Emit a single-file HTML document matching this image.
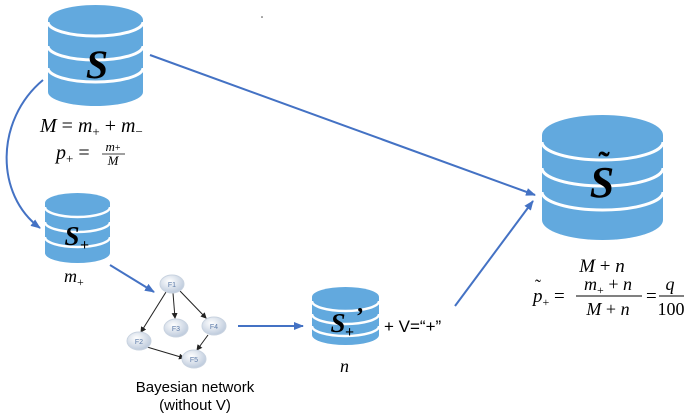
<!DOCTYPE html>
<html><head><meta charset="utf-8"><style>
html,body{margin:0;padding:0;background:#fff;}
svg{display:block;}
.m{font-family:"Liberation Serif",serif;font-style:italic;}
.r{font-family:"Liberation Serif",serif;}
</style></head><body>
<svg width="685" height="415" viewBox="0 0 685 415" xmlns="http://www.w3.org/2000/svg">
<defs>
<marker id="a" markerWidth="10" markerHeight="8" refX="9" refY="4" orient="auto" markerUnits="userSpaceOnUse"><path d="M0,0 L10,4 L0,8 z" fill="#4472c4"/></marker>
<marker id="b" markerWidth="6" markerHeight="6" refX="5" refY="3" orient="auto" markerUnits="userSpaceOnUse"><path d="M0,0 L6,3 L0,6 z" fill="#222"/></marker>
<radialGradient id="g" cx="0.4" cy="0.35" r="0.7"><stop offset="0" stop-color="#fff"/><stop offset="1" stop-color="#b9c7da"/></radialGradient>
</defs>
<!-- DB S -->
<g fill="#62a9de">
<rect x="48" y="20" width="95" height="72"/><ellipse cx="95.5" cy="92" rx="47.5" ry="14"/><ellipse cx="95.5" cy="20" rx="47.5" ry="15"/>
</g>
<g fill="none" stroke="#fff" stroke-width="3">
<path d="M48,22 A47.5,14 0 0 0 143,22"/><path d="M48,46 A47.5,14 0 0 0 143,46"/><path d="M48,68 A47.5,14 0 0 0 143,68"/>
</g>
<text x="97" y="78" class="m" font-weight="bold" font-size="40" text-anchor="middle">S</text>
<text x="40" y="132" class="m" font-size="20">M <tspan font-style="normal">=</tspan> m<tspan font-size="13" dy="4" font-style="normal">+</tspan><tspan dy="-4" font-style="normal"> + </tspan>m<tspan font-size="13" dy="4" font-style="normal">−</tspan></text>
<text x="56" y="159" class="m" font-size="20">p<tspan font-size="13" dy="4" font-style="normal">+</tspan><tspan dy="-4" font-style="normal"> = </tspan></text>
<text x="113" y="151" class="m" font-size="13" text-anchor="middle">m<tspan font-style="normal" font-size="10">+</tspan></text>
<line x1="102" y1="154" x2="125" y2="154" stroke="#000" stroke-width="0.8"/>
<text x="113" y="165" class="m" font-size="13" text-anchor="middle">M</text>
<!-- DB S+ -->
<g fill="#62a9de">
<rect x="45" y="203" width="65" height="50"/><ellipse cx="77.5" cy="253" rx="32.5" ry="10"/><ellipse cx="77.5" cy="203" rx="32.5" ry="10"/>
</g>
<g fill="none" stroke="#fff" stroke-width="2.5">
<path d="M45,207 A32.5,10 0 0 0 110,207"/><path d="M45,222 A32.5,10 0 0 0 110,222"/><path d="M45,237 A32.5,10 0 0 0 110,237"/>
</g>
<text x="72" y="245" class="m" font-weight="bold" font-size="27" text-anchor="middle">S</text>
<text x="80" y="250" class="r" font-weight="bold" font-size="16">+</text>
<text x="64" y="282" class="m" font-size="18">m<tspan font-size="12" dy="4" font-style="normal">+</tspan></text>
<!-- DB S+' -->
<g fill="#62a9de">
<rect x="312" y="297" width="67" height="38"/><ellipse cx="345.5" cy="335" rx="33.5" ry="10"/><ellipse cx="345.5" cy="297" rx="33.5" ry="10"/>
</g>
<g fill="none" stroke="#fff" stroke-width="2.5">
<path d="M312,301 A33.5,10 0 0 0 379,301"/><path d="M312,314 A33.5,10 0 0 0 379,314"/><path d="M312,326 A33.5,10 0 0 0 379,326"/>
</g>
<text x="338" y="332" class="m" font-weight="bold" font-size="27" text-anchor="middle">S</text>
<text x="345" y="337" class="r" font-weight="bold" font-size="16">+</text>
<text x="356" y="324" class="r" font-weight="bold" font-size="24">’</text>
<text x="384" y="332" font-family="Liberation Sans,sans-serif" font-size="17">+ V=“+”</text>
<text x="340" y="372" class="m" font-size="18">n</text>
<!-- DB S~ -->
<g fill="#62a9de">
<rect x="542" y="135" width="121" height="85"/><ellipse cx="602.5" cy="220" rx="60.5" ry="20"/><ellipse cx="602.5" cy="135" rx="60.5" ry="20"/>
</g>
<g fill="none" stroke="#fff" stroke-width="3">
<path d="M542,142 A60.5,18 0 0 0 663,142"/><path d="M542,168 A60.5,18 0 0 0 663,168"/><path d="M542,192 A60.5,18 0 0 0 663,192"/>
</g>
<text x="602" y="197" class="m" font-weight="bold" font-size="44" text-anchor="middle">S</text>
<text x="604" y="175" class="r" font-weight="bold" font-size="34" text-anchor="middle">˜</text>
<text x="602" y="272" class="m" font-size="19" text-anchor="middle">M <tspan font-style="normal">+</tspan> n</text>
<text x="533" y="302" class="m" font-size="19">p<tspan font-size="12" dy="4" font-style="normal">+</tspan><tspan dy="-4" font-style="normal"> =</tspan></text>
<text x="535" y="292" class="r" font-size="18">˜</text>
<text x="608" y="290" class="m" font-size="18" text-anchor="middle">m<tspan font-size="12" dy="4" font-style="normal">+</tspan><tspan dy="-4" font-style="normal"> + </tspan>n</text>
<line x1="576" y1="296" x2="642" y2="296" stroke="#000" stroke-width="1"/>
<text x="608" y="315" class="m" font-size="18" text-anchor="middle">M <tspan font-style="normal">+</tspan> n</text>
<text x="646" y="302" class="r" font-size="19">=</text>
<text x="670" y="290" class="m" font-size="18" text-anchor="middle">q</text>
<line x1="659" y1="296" x2="684" y2="296" stroke="#000" stroke-width="1"/>
<text x="671" y="315" class="r" font-size="18" text-anchor="middle">100</text>
<!-- arrows -->
<g stroke="#4472c4" stroke-width="2" fill="none" marker-end="url(#a)">
<line x1="150" y1="55" x2="535" y2="195"/>
<line x1="455" y1="306" x2="533" y2="201"/>
<path d="M43,80 C-5,120 -5,195 40,228"/>
<line x1="110" y1="265" x2="154" y2="292"/>
<line x1="238" y1="326" x2="303" y2="326"/>
</g>
<!-- BN -->
<g stroke="#222" stroke-width="1" marker-end="url(#b)">
<line x1="166" y1="292" x2="141" y2="332"/>
<line x1="173" y1="293" x2="175" y2="318"/>
<line x1="180" y1="291" x2="206" y2="318"/>
<line x1="208" y1="335" x2="197" y2="350"/>
<line x1="147" y1="347" x2="184" y2="358"/>
</g>
<g fill="url(#g)" stroke="#c9d3e0" stroke-width="1">
<ellipse cx="172" cy="284" rx="12" ry="9"/><ellipse cx="176" cy="328" rx="12" ry="9"/><ellipse cx="214" cy="326" rx="12" ry="9"/><ellipse cx="139" cy="341" rx="12" ry="9"/><ellipse cx="194" cy="359" rx="12" ry="9"/>
</g>
<g font-family="Liberation Sans,sans-serif" font-size="7" fill="#5b7aa8" text-anchor="middle">
<text x="172" y="287">F1</text><text x="176" y="331">F3</text><text x="214" y="329">F4</text><text x="139" y="344">F2</text><text x="194" y="362">F5</text>
</g>
<text x="195" y="392" font-family="Liberation Sans,sans-serif" font-size="15" text-anchor="middle">Bayesian network</text>
<text x="195" y="410" font-family="Liberation Sans,sans-serif" font-size="15" text-anchor="middle">(without V)</text>
<circle cx="262" cy="17" r="0.8" fill="#444"/>
</svg>
</body></html>
